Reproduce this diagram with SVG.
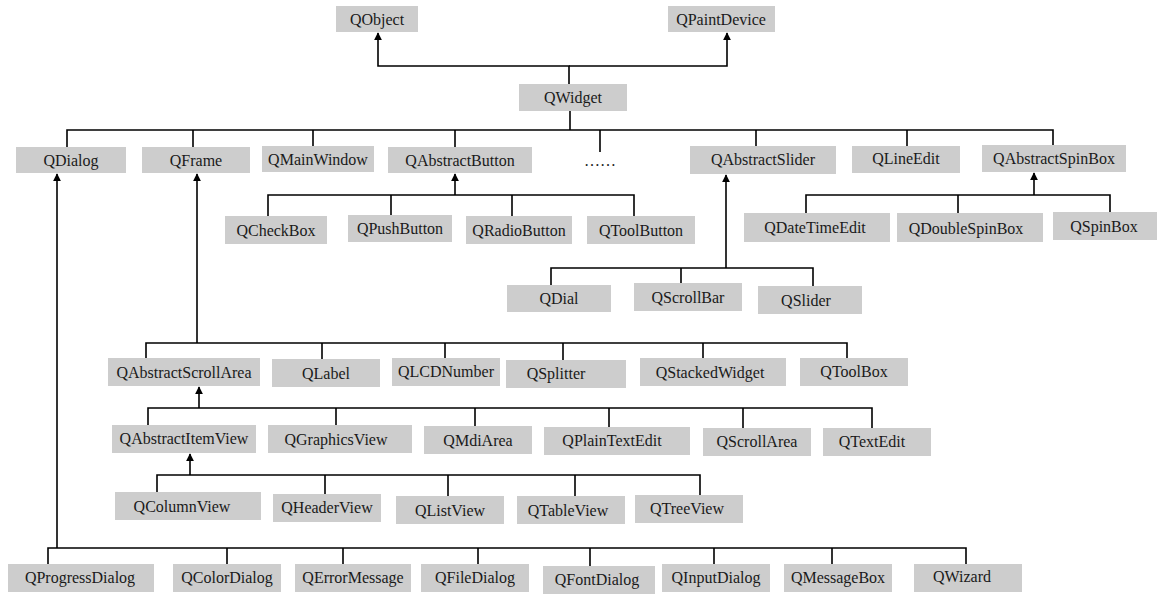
<svg xmlns="http://www.w3.org/2000/svg" width="1162" height="600" viewBox="0 0 1162 600">
<style>
rect{fill:#cdcdcd}
text{font-family:"Liberation Serif",serif;font-size:16px;fill:#1a1a1a;text-anchor:middle}
.c path{fill:none;stroke:#000;stroke-width:1.6}
</style>
<defs><marker id="a" viewBox="0 0 10 10" refX="9" refY="5" markerWidth="8" markerHeight="9" orient="auto" markerUnits="userSpaceOnUse"><path d="M0,0L10,5L0,10z" fill="#000"/></marker></defs>
<rect width="1162" height="600" style="fill:#fff"/>
<g class="c">
<path d="M569,84V66H378V33" marker-end="url(#a)"/>
<path d="M569,66H727V33" marker-end="url(#a)"/>
<path d="M570,130V103" marker-end="url(#a)"/>
<path d="M67,147V130H1053V145M193,130V147M313,130V146M455,130V147M600,130V152M756,130V146M907,130V146"/>
<path d="M455,195V174" marker-end="url(#a)"/>
<path d="M268,216V195H634V216M391,195V215M512,195V216"/>
<path d="M1034,195V173" marker-end="url(#a)"/>
<path d="M806,213V195H1110V212M958,195V213"/>
<path d="M726,268V175" marker-end="url(#a)"/>
<path d="M551,285V268H813V286M681,268V283"/>
<path d="M197,343V174" marker-end="url(#a)"/>
<path d="M146,358V343H847V358M322,343V359M445,343V358M563,343V360M703,343V358"/>
<path d="M199,408V387" marker-end="url(#a)"/>
<path d="M148,425V408H872V428M336,408V425M475,408V426M609,408V427M743,408V428"/>
<path d="M190,475V454" marker-end="url(#a)"/>
<path d="M157,492V475H700V495M325,475V494M448,475V496M575,475V496"/>
<path d="M57,548V174" marker-end="url(#a)"/>
<path d="M48,564V548H966V564M227,548V564M343,548V564M478,548V564M590,548V566M714,548V564M832,548V564"/>
</g>
<text x="600" y="166">……</text>
<g id="QObject"><rect x="336" y="6" width="82" height="26"/><text x="377" y="25">QObject</text></g>
<g id="QPaintDevice"><rect x="668" y="6" width="107" height="26"/><text x="721" y="25">QPaintDevice</text></g>
<g id="QWidget"><rect x="519" y="84" width="108" height="27"/><text x="573" y="103">QWidget</text></g>
<g id="QDialog"><rect x="16" y="147" width="110" height="26"/><text x="71" y="166">QDialog</text></g>
<g id="QFrame"><rect x="142" y="147" width="108" height="26"/><text x="196" y="166">QFrame</text></g>
<g id="QMainWindow"><rect x="262" y="146" width="112" height="26"/><text x="318" y="165">QMainWindow</text></g>
<g id="QAbstractButton"><rect x="388" y="147" width="144" height="26"/><text x="460" y="166">QAbstractButton</text></g>
<g id="QAbstractSlider"><rect x="690" y="146" width="146" height="28"/><text x="763" y="165">QAbstractSlider</text></g>
<g id="QLineEdit"><rect x="852" y="146" width="108" height="27"/><text x="906" y="164">QLineEdit</text></g>
<g id="QAbstractSpinBox"><rect x="982" y="145" width="144" height="27"/><text x="1054" y="164">QAbstractSpinBox</text></g>
<g id="QCheckBox"><rect x="225" y="216" width="102" height="28"/><text x="276" y="236">QCheckBox</text></g>
<g id="QPushButton"><rect x="348" y="215" width="104" height="27"/><text x="400" y="234">QPushButton</text></g>
<g id="QRadioButton"><rect x="466" y="216" width="106" height="28"/><text x="519" y="236">QRadioButton</text></g>
<g id="QToolButton"><rect x="587" y="216" width="108" height="28"/><text x="641" y="236">QToolButton</text></g>
<g id="QDateTimeEdit"><rect x="744" y="213" width="146" height="29"/><text x="815" y="233">QDateTimeEdit</text></g>
<g id="QDoubleSpinBox"><rect x="897" y="213" width="146" height="29"/><text x="966" y="234">QDoubleSpinBox</text></g>
<g id="QSpinBox"><rect x="1053" y="212" width="104" height="28"/><text x="1104" y="232">QSpinBox</text></g>
<g id="QDial"><rect x="507" y="285" width="104" height="27"/><text x="559" y="304">QDial</text></g>
<g id="QScrollBar"><rect x="634" y="283" width="108" height="28"/><text x="688" y="303">QScrollBar</text></g>
<g id="QSlider"><rect x="758" y="286" width="104" height="28"/><text x="806" y="306">QSlider</text></g>
<g id="QAbstractScrollArea"><rect x="108" y="358" width="152" height="28"/><text x="184" y="378">QAbstractScrollArea</text></g>
<g id="QLabel"><rect x="272" y="359" width="108" height="28"/><text x="326" y="379">QLabel</text></g>
<g id="QLCDNumber"><rect x="392" y="358" width="108" height="28"/><text x="446" y="377">QLCDNumber</text></g>
<g id="QSplitter"><rect x="506" y="360" width="120" height="28"/><text x="556" y="379">QSplitter</text></g>
<g id="QStackedWidget"><rect x="640" y="358" width="146" height="28"/><text x="710" y="378">QStackedWidget</text></g>
<g id="QToolBox"><rect x="800" y="358" width="108" height="28"/><text x="854" y="377">QToolBox</text></g>
<g id="QAbstractItemView"><rect x="112" y="425" width="144" height="28"/><text x="184" y="444">QAbstractItemView</text></g>
<g id="QGraphicsView"><rect x="268" y="425" width="144" height="28"/><text x="336" y="445">QGraphicsView</text></g>
<g id="QMdiArea"><rect x="424" y="426" width="108" height="28"/><text x="478" y="446">QMdiArea</text></g>
<g id="QPlainTextEdit"><rect x="544" y="427" width="146" height="28"/><text x="612" y="446">QPlainTextEdit</text></g>
<g id="QScrollArea"><rect x="703" y="428" width="108" height="28"/><text x="757" y="447">QScrollArea</text></g>
<g id="QTextEdit"><rect x="823" y="428" width="108" height="28"/><text x="872" y="447">QTextEdit</text></g>
<g id="QColumnView"><rect x="115" y="492" width="146" height="28"/><text x="182" y="512">QColumnView</text></g>
<g id="QHeaderView"><rect x="273" y="494" width="108" height="28"/><text x="327" y="513">QHeaderView</text></g>
<g id="QListView"><rect x="396" y="496" width="108" height="28"/><text x="450" y="516">QListView</text></g>
<g id="QTableView"><rect x="517" y="496" width="108" height="28"/><text x="568" y="516">QTableView</text></g>
<g id="QTreeView"><rect x="635" y="495" width="108" height="28"/><text x="687" y="514">QTreeView</text></g>
<g id="QProgressDialog"><rect x="8" y="564" width="146" height="28"/><text x="80" y="583">QProgressDialog</text></g>
<g id="QColorDialog"><rect x="173" y="564" width="108" height="28"/><text x="227" y="583">QColorDialog</text></g>
<g id="QErrorMessage"><rect x="295" y="564" width="116" height="28"/><text x="353" y="583">QErrorMessage</text></g>
<g id="QFileDialog"><rect x="421" y="564" width="108" height="28"/><text x="475" y="583">QFileDialog</text></g>
<g id="QFontDialog"><rect x="543" y="566" width="112" height="28"/><text x="597" y="585">QFontDialog</text></g>
<g id="QInputDialog"><rect x="662" y="564" width="108" height="28"/><text x="716" y="583">QInputDialog</text></g>
<g id="QMessageBox"><rect x="784" y="564" width="108" height="28"/><text x="838" y="583">QMessageBox</text></g>
<g id="QWizard"><rect x="914" y="564" width="108" height="28"/><text x="962" y="582">QWizard</text></g>
</svg>
